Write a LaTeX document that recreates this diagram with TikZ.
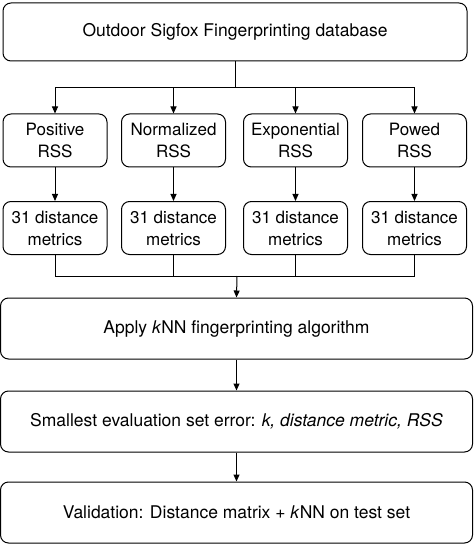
\documentclass[tikz,border=0pt]{standalone}
\usepackage{fontspec}
\setmainfont{TeX Gyre Heros}
\usetikzlibrary{arrows.meta,positioning}

\begin{document}
\begin{tikzpicture}[
    x=1pt, y=-1pt,
    widebox/.style={
        rectangle,
        draw,
        line width=1pt,
        rounded corners=8pt,
        minimum width=464pt,
        minimum height=58pt,
        text centered,
        font=\fontsize{17.5}{20}\selectfont
    },
    smallbox/.style={
        rectangle,
        draw,
        line width=1pt,
        rounded corners=8pt,
        minimum width=104pt,
        minimum height=53pt,
        align=center,
        inner sep=1pt,
        font=\fontsize{17}{22}\selectfont
    },
    arrow/.style={
        -{Triangle[length=7pt, width=6pt]},
        line width=1pt
    }
]
    \useasboundingbox (0,0) rectangle (474,545);

    % Database
    \node[widebox] (db) at (235,32) {Outdoor Sigfox Fingerprinting database};

    % RSS variants
    \node[smallbox] (rss1) at (55,140.5) {Positive\\RSS};
    \node[smallbox] (rss2) at (173.5,140.5) {Normalized\\RSS};
    \node[smallbox] (rss3) at (295.5,140.5) {Exponential\\RSS};
    \node[smallbox] (rss4) at (414.5,140.5) {Powed\\RSS};

    % Distance metrics
    \node[smallbox] (dist1) at (55,228) {31 distance\\metrics};
    \node[smallbox] (dist2) at (173.5,228) {31 distance\\metrics};
    \node[smallbox] (dist3) at (295.5,228) {31 distance\\metrics};
    \node[smallbox] (dist4) at (414.5,228) {31 distance\\metrics};

    % Algorithm, selection, validation
    \node[widebox, minimum width=472pt, minimum height=61pt] (knn) at (236.5,328.5)
        {Apply \textit{k}NN fingerprinting algorithm};
    \node[widebox, minimum width=472pt, minimum height=61pt] (eval) at (236.5,421.5)
        {Smallest evaluation set error: \textit{k, distance metric, RSS}};
    \node[widebox, minimum width=472pt, minimum height=61pt] (valid) at (236.5,512.5)
        {Validation: Distance matrix + \textit{k}NN on test set};

    \coordinate (split) at (235,88);
    \coordinate (join) at (237,276);

    % Arrows
    \draw[line width=1pt] (db.south) -- (split);
    \foreach \i in {1,2,3,4} {
        \draw[arrow] (split) -| (rss\i.north);
        \draw[arrow] (rss\i.south) -- (dist\i.north);
        \draw[line width=1pt] (dist\i.south) |- (join);
    }
    \draw[arrow] (join) -- (knn.north);
    \draw[arrow] (knn.south) -- (eval.north);
    \draw[arrow] (eval.south) -- (valid.north);
\end{tikzpicture}
\end{document}
